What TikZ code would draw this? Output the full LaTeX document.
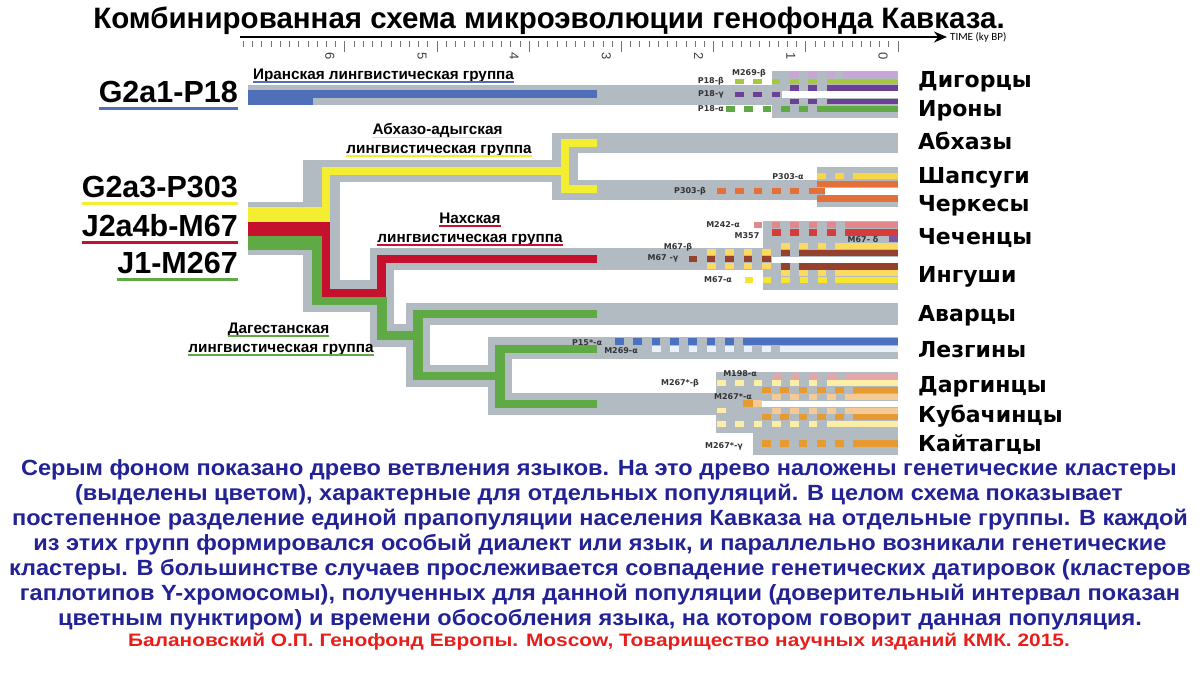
\documentclass[tikz,border=0pt]{standalone}
\usepackage{fontspec}
\setmainfont{Liberation Sans}
\newfontfamily\dvs{DejaVu Sans}
\newfontfamily\carl{Carlito}
\usetikzlibrary{arrows.meta}
\definecolor{tgray}{RGB}{178,186,194}
\definecolor{iblue}{RGB}{79,112,184}
\definecolor{tyel}{RGB}{243,238,50}
\definecolor{tred}{RGB}{197,17,45}
\definecolor{tgreen}{RGB}{96,170,70}
\definecolor{lav}{RGB}{200,166,216}
\definecolor{ygreen}{RGB}{166,200,60}
\definecolor{purp}{RGB}{108,64,148}
\definecolor{gold}{RGB}{248,214,72}
\definecolor{orng}{RGB}{226,112,56}
\definecolor{pinkr}{RGB}{226,136,140}
\definecolor{redm}{RGB}{214,60,58}
\definecolor{mbrown}{RGB}{150,64,46}
\definecolor{ylw}{RGB}{250,218,96}
\definecolor{bylw}{RGB}{247,228,48}
\definecolor{mviolet}{RGB}{126,86,166}
\definecolor{lblue}{RGB}{74,112,190}
\definecolor{pale}{RGB}{232,240,250}
\definecolor{pinkd}{RGB}{228,166,170}
\definecolor{lylw}{RGB}{252,238,164}
\definecolor{orng2}{RGB}{232,154,50}
\definecolor{peach}{RGB}{246,202,148}
\definecolor{navy}{RGB}{34,34,150}
\definecolor{refred}{RGB}{232,30,26}
\newcommand{\sqs}[5]{\foreach \k in {1,...,#5}{\fill[#1] ({#4+(\k-1)*18.35},#2) rectangle ++(8.6,#3);}}
\newcommand{\sqrow}[6]{\sqs{#1}{#2}{#3}{#4}{#5}\fill[#1] (#6,#2) rectangle (898,#2+#3);}
\begin{document}
\begin{tikzpicture}[x=1pt,y=-1pt,
  pop/.style={anchor=base west,inner sep=0,font=\dvs\bfseries\fontsize{22}{24}\selectfont},
  hap/.style={anchor=base east,inner sep=0,font=\bfseries\fontsize{30.5}{32}\selectfont},
  grp/.style={anchor=base,inner sep=0,font=\bfseries\fontsize{15.3}{17}\selectfont},
  mk/.style={inner sep=0,font=\dvs\bfseries\fontsize{8}{9}\selectfont,text=black!80},
  para/.style={anchor=base,inner sep=0,xscale=1.07,font=\bfseries\fontsize{22}{24}\selectfont,text=navy},
  uline/.style={line width=1.5},
  huline/.style={line width=3}]
\useasboundingbox (0,0) rectangle (1200,675);
\fill[white] (0,0) rectangle (1200,675);
% title and axis
\node[anchor=base,inner sep=0,font=\bfseries\fontsize{29.5}{32}\selectfont] (title) at (549,28) {Комбинированная схема микроэволюции генофонда Кавказа.};
\coordinate (axL) at (240,37);
\coordinate (axR) at (947,37);
\draw[line width=2.6,-{Stealth[length=13pt,width=11pt]}] (axL) -- (axR);
\foreach \i in {0,...,71} \draw[black!55,line width=0.7] ({898-\i*9.22},41) -- ++(0,6);
\foreach \i in {0,...,6} {
  \draw[black!55,line width=0.8] ({898-\i*92.2},41) -- ++(0,11);
  \node[rotate=-90,inner sep=0,text=black!75,font=\fontsize{13}{13}\selectfont] (d\i) at ({898-\i*92.2-15},56) {\i};
}
\node[anchor=west,inner sep=0,font=\carl\fontsize{11}{11}\selectfont] (time) at (950,37) {TIME (ky BP)};
% gray tree
\fill[tgray] (248,85) rectangle (780,105);
\fill[tgray] (772,71) rectangle (898,118);
\fill[tgray] (248,202) rectangle (340,255);
\fill[tgray] (303,160) rectangle (340,312);
\fill[tgray] (303,160) rectangle (578,182);
\fill[tgray] (552,133) rectangle (578,200);
\fill[tgray] (552,133) rectangle (898,153);
\fill[tgray] (552,180) rectangle (820,200);
\fill[tgray] (817,167) rectangle (898,207);
\fill[tgray] (303,280) rectangle (394,312);
\fill[tgray] (370,248) rectangle (394,347);
\fill[tgray] (370,248) rectangle (763,270);
\fill[tgray] (763,221) rectangle (898,290);
\fill[tgray] (370,324) rectangle (430,347);
\fill[tgray] (406,303) rectangle (430,387);
\fill[tgray] (406,303) rectangle (898,325);
\fill[tgray] (406,365) rectangle (512,387);
\fill[tgray] (488,337) rectangle (512,415);
\fill[tgray] (488,337) rectangle (898,359);
\fill[tgray] (488,393) rectangle (717,415);
\fill[tgray] (716,372) rectangle (898,433);
\fill[tgray] (753,428) rectangle (898,455);
\fill[white] (782,91) rectangle (898,97.5);
\fill[white] (825,187.5) rectangle (898,194.5);
\fill[white] (772,256.5) rectangle (898,262.5);
\fill[white] (762,400.5) rectangle (898,407);
% coloured lineages
\fill[iblue] (248,90) rectangle (597,98);
\fill[iblue] (248,98) rectangle (313,105);
\fill[tyel] (248,207) rectangle (330,221.5);
\fill[tyel] (322,167) rectangle (330,221.5);
\fill[tyel] (322,167) rectangle (569,175);
\fill[tyel] (561,139) rectangle (569,193);
\fill[tyel] (561,139) rectangle (597,147);
\fill[tyel] (561,185) rectangle (597,193);
\fill[tred] (248,221.5) rectangle (330,236);
\fill[tred] (322,221.5) rectangle (330,297);
\fill[tred] (322,289) rectangle (386,297);
\fill[tred] (377,255) rectangle (386,297);
\fill[tred] (377,255) rectangle (597,263);
\fill[tgreen] (248,236) rectangle (322,250);
\fill[tgreen] (312,236) rectangle (322,305);
\fill[tgreen] (312,297) rectangle (387,305);
\fill[tgreen] (377,297) rectangle (387,340);
\fill[tgreen] (377,331) rectangle (423,340);
\fill[tgreen] (413,310) rectangle (423,380);
\fill[tgreen] (413,310) rectangle (597,318);
\fill[tgreen] (413,372) rectangle (505,380);
\fill[tgreen] (495,345) rectangle (505,408);
\fill[tgreen] (495,345) rectangle (597,353);
\fill[tgreen] (495,400) rectangle (597,408);
% Ossetians
\sqrow{lav}{72}{5.5}{790}{3}{843}
\sqrow{ygreen}{78.5}{5.5}{735}{5}{827}
\sqrow{purp}{85}{5.5}{790}{2}{827}
\sqs{purp}{91.5}{5.5}{735}{3}
\sqrow{purp}{98.5}{5.5}{790}{2}{827}
\sqrow{tgreen}{106}{6}{726}{5}{817}
% Adyghe
\sqrow{gold}{173}{6}{817}{2}{853}
\fill[orng] (817,180.5) rectangle (898,187);
\sqs{orng}{188}{5.5}{717}{6}
\fill[orng] (817,188) rectangle (825,193.5);
\fill[orng] (817,194.5) rectangle (898,201.5);
% Nakh
\sqrow{pinkr}{222}{6}{753.5}{5}{845}
\sqrow{redm}{229}{6.5}{772}{4}{845}
\fill[mviolet] (889,236) rectangle (898,242);
\sqrow{ylw}{243}{5.5}{781}{3}{835}
\sqrow{mbrown}{249.5}{6.5}{781}{1}{799}
\sqrow{mbrown}{263}{6.5}{781}{1}{799}
\sqrow{ylw}{270}{6}{781}{3}{835}
\sqrow{bylw}{277}{6}{744.5}{5}{835}
\sqs{ylw}{248.5}{6}{707}{4}
\sqs{mbrown}{256}{6}{688.5}{5}
\sqs{ylw}{263}{6}{707}{4}
% Lezgins
\sqrow{lblue}{338}{7}{615}{7}{743}
\sqrow{pale}{346}{6}{652}{7}{780}
% Dargins, Kubachins, Kaitags
\sqrow{pinkd}{373}{6}{773}{4}{845}
\sqrow{lylw}{380}{6}{717}{6}{827}
\sqrow{orng2}{387}{6}{762}{5}{853}
\sqrow{peach}{394}{6}{772}{4}{845}
\fill[orng2] (743,400) rectangle (753,407);
\fill[peach] (753,400) rectangle (762,407);
\fill[lylw] (717,407.5) rectangle (725.6,413);
\sqrow{peach}{408}{5.5}{772}{4}{845}
\sqrow{orng2}{414}{6}{762}{5}{853}
\sqrow{lylw}{421}{6}{717}{6}{827}
\sqrow{orng2}{440}{7}{762}{5}{853}
% marker labels
\node[mk] (lM269b) at (749,73) {M269-β};
\node[mk,anchor=east] (lP18b) at (724,81.5) {P18-β};
\node[mk,anchor=east] (lP18g) at (724,94.5) {P18-γ};
\node[mk,anchor=east] (lP18a) at (724,109) {P18-α};
\node[mk] (lP303a) at (788,176.5) {P303-α};
\node[mk] (lP303b) at (690,191) {P303-β};
\node[mk] (lM242) at (723,225) {M242-α};
\node[mk] (lM357) at (747,236) {M357};
\node[mk] (lM67d) at (863,239) {M67- δ};
\node[mk] (lM67b) at (678,247.5) {M67-β};
\node[mk] (lM67g) at (663,258.5) {M67 -γ};
\node[mk] (lM67a) at (718,280) {M67-α};
\node[mk] (lP15) at (587,342.5) {P15*-α};
\node[mk] (lM269a) at (621,350.5) {M269-α};
\node[mk] (lM198) at (740,374) {M198-α};
\node[mk] (lM267b) at (680,383) {M267*-β};
\node[mk] (lM267a) at (733,397) {M267*-α};
\node[mk] (lM267g) at (724,446) {M267*-γ};
% group labels
\node[grp] (gIr) at (383.5,79) {Иранская лингвистическая группа};
\draw[iblue,uline] ([yshift=-3pt]gIr.base west) -- ([yshift=-3pt]gIr.base east);
\node[grp] (gAb1) at (437.5,134.5) {Абхазо-адыгская};
\draw[tyel,uline] ([yshift=-3pt]gAb1.base west) -- ([yshift=-3pt]gAb1.base east);
\node[grp] (gAb2) at (439,153) {лингвистическая группа};
\draw[tyel,uline] ([yshift=-3pt]gAb2.base west) -- ([yshift=-3pt]gAb2.base east);
\node[grp] (gNa1) at (470,223) {Нахская};
\draw[tred,uline] ([yshift=-3pt]gNa1.base west) -- ([yshift=-3pt]gNa1.base east);
\node[grp] (gNa2) at (470,242) {лингвистическая группа};
\draw[tred,uline] ([yshift=-3pt]gNa2.base west) -- ([yshift=-3pt]gNa2.base east);
\node[grp] (gDa1) at (278.5,333) {Дагестанская};
\draw[tgreen,uline] ([yshift=-3pt]gDa1.base west) -- ([yshift=-3pt]gDa1.base east);
\node[grp] (gDa2) at (281,352) {лингвистическая группа};
\draw[tgreen,uline] ([yshift=-3pt]gDa2.base west) -- ([yshift=-3pt]gDa2.base east);
% haplogroups
\node[hap] (hG2a1) at (238,102) {G2a1-P18};
\draw[iblue,huline] ([yshift=-6.5pt]hG2a1.base west) -- ([yshift=-6.5pt]hG2a1.base east);
\node[hap] (hG2a3) at (238,197) {G2a3-P303};
\draw[tyel,huline] ([yshift=-6.5pt]hG2a3.base west) -- ([yshift=-6.5pt]hG2a3.base east);
\node[hap] (hJ2) at (238,236) {J2a4b-M67};
\draw[tred,huline] ([yshift=-6.5pt]hJ2.base west) -- ([yshift=-6.5pt]hJ2.base east);
\node[hap] (hJ1) at (238,273) {J1-M267};
\draw[tgreen,huline] ([yshift=-6.5pt]hJ1.base west) -- ([yshift=-6.5pt]hJ1.base east);
% populations
\node[pop] (pDig) at (918,87) {Дигорцы};
\node[pop] (pIr) at (918,116) {Ироны};
\node[pop] (pAb) at (918,149) {Абхазы};
\node[pop] (pSh) at (918,183) {Шапсуги};
\node[pop] (pCh) at (918,211) {Черкесы};
\node[pop] (pChe) at (918,244) {Чеченцы};
\node[pop] (pIn) at (918,282) {Ингуши};
\node[pop] (pAv) at (918,321) {Аварцы};
\node[pop] (pLe) at (918,357) {Лезгины};
\node[pop] (pDa) at (918,392) {Даргинцы};
\node[pop] (pKu) at (918,422) {Кубачинцы};
\node[pop] (pKa) at (918,451) {Кайтагцы};
% caption
\node[para] (p1) at (599,475) {Серым фоном показано древо ветвления языков. На это древо наложены генетические кластеры};
\node[para] (p2) at (599,500) {(выделены цветом), характерные для отдельных популяций. В целом схема показывает};
\node[para] (p3) at (600,525) {постепенное разделение единой прапопуляции населения Кавказа на отдельные группы. В каждой};
\node[para] (p4) at (600,550) {из этих групп формировался особый диалект или язык, и параллельно возникали генетические};
\node[para] (p5) at (600,575) {кластеры. В большинстве случаев прослеживается совпадение генетических датировок (кластеров};
\node[para] (p6) at (600,600) {гаплотипов Y-хромосомы), полученных для данной популяции (доверительный интервал показан};
\node[para] (p7) at (600,625) {цветным пунктиром) и времени обособления языка, на котором говорит данная популяция.};
\node[anchor=base,inner sep=0,xscale=1.16,font=\bfseries\fontsize{18}{20}\selectfont,text=refred] (ref) at (599,646) {Балановский О.П. Генофонд Европы. Moscow, Товарищество научных изданий КМК. 2015.};
\end{tikzpicture}
\end{document}
